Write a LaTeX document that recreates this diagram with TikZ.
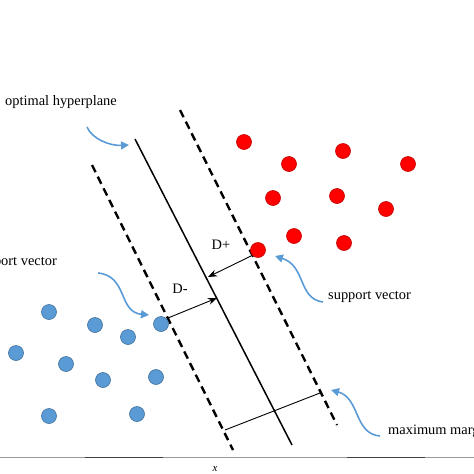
\documentclass[tikz,border=0pt]{standalone}
\usepackage{fontspec}
\setmainfont{Liberation Serif}
\usetikzlibrary{arrows.meta}
\definecolor{bluept}{HTML}{5B9BD5}
\definecolor{blueedge}{HTML}{41719C}
\definecolor{redpt}{HTML}{FF0000}
\definecolor{rededge}{HTML}{C00000}
\definecolor{arrowblue}{HTML}{5B9BD5}
\tikzset{
  bpt/.style={circle,fill=bluept,draw=blueedge,line width=0.6pt,minimum size=15pt,inner sep=0pt},
  rpt/.style={circle,fill=redpt,draw=rededge,line width=0.6pt,minimum size=15pt,inner sep=0pt},
  lbl/.style={font=\fontsize{14.4}{16}\selectfont,inner sep=0pt},
  marginline/.style={line width=2.4pt,dash pattern=on 8pt off 5pt},
  hyper/.style={line width=1.5pt},
  darrow/.style={line width=0.9pt,-{Stealth[length=9pt,width=7pt]}},
  barrow/.style={arrowblue,line width=1.6pt,-{Triangle[length=8pt,width=8pt]}}
}
\begin{document}
\begin{tikzpicture}[x=1pt,y=-1pt]
\useasboundingbox (0,0) rectangle (474,474);
\clip (0,0) rectangle (474,474);
% axis
\draw[gray!80,line width=1pt] (0,457) -- (474,457);
\draw[black!75,line width=1pt] (85,457) -- (163,457);
\draw[black!75,line width=1pt] (347,457) -- (425,457);
\node[font=\itshape\fontsize{11}{12}\selectfont,inner sep=0pt] (xl) at (215,469) {x};
% hyperplanes
\coordinate (h1) at (135,139);
\coordinate (h2) at (292,445);
\coordinate (l1) at (92,165);
\coordinate (l2) at (233,450);
\coordinate (r1) at (180,110);
\coordinate (r2) at (337,425);
\draw[hyper] (h1) -- (h2);
\draw[marginline] (l1) -- (l2);
\draw[marginline] (r1) -- (r2);
% blue points
\node[bpt] (b1) at (49,312) {};
\node[bpt] (b2) at (95,325) {};
\node[bpt] (b3) at (128,337) {};
\node[bpt] (bs) at (161,324) {};
\node[bpt] (b5) at (16,353) {};
\node[bpt] (b6) at (66,364) {};
\node[bpt] (b7) at (103,380) {};
\node[bpt] (b8) at (156,377) {};
\node[bpt] (b9) at (49,416) {};
\node[bpt] (b10) at (137,414) {};
% red points
\node[rpt] (r01) at (244,142) {};
\node[rpt] (r02) at (289,164) {};
\node[rpt] (r03) at (343,151) {};
\node[rpt] (r04) at (408,164) {};
\node[rpt] (r05) at (273,198) {};
\node[rpt] (r06) at (337,196) {};
\node[rpt] (r07) at (386,209) {};
\node[rpt] (r08) at (294,236) {};
\node[rpt] (r09) at (344,243) {};
\node[rpt] (rs) at (258,250) {};
% distance arrows
\coordinate (dpS) at (251,256);
\coordinate (dpE) at (208,277);
\coordinate (dmS) at (168,318);
\coordinate (dmE) at (217,298);
\draw[darrow] (dpS) -- (dpE);
\draw[darrow] (dmS) -- (dmE);
\node[lbl] (dplus) at (221,245) {D+};
\node[lbl] (dminus) at (180,289) {D-};
% maximum margin segment
\coordinate (m1) at (225,430);
\coordinate (m2) at (320,393);
\draw[line width=0.9pt] (m1) -- (m2);
% labels
\node[lbl,anchor=west] (topt) at (5,102) {optimal hyperplane};
\node[lbl,anchor=east] (tsvl) at (57,263) {support vector};
\node[lbl,anchor=west] (tsvr) at (328,297) {support vector};
\node[lbl,anchor=west] (tmm) at (388,431) {maximum margin};
% blue curved arrows
\coordinate (a1s) at (87,127);
\coordinate (a1e) at (129,145);
\draw[barrow] (a1s) .. controls (92,139) and (110,146) .. (a1e);
\coordinate (a2s) at (98,273);
\coordinate (a2e) at (149,315);
\draw[barrow] (a2s) .. controls (128,276) and (118,312) .. (a2e);
\coordinate (a3s) at (323,302);
\coordinate (a3e) at (275,256);
\draw[barrow] (a3s) .. controls (298,299) and (306,266) .. (a3e);
\coordinate (a4s) at (380,436);
\coordinate (a4e) at (331,390);
\draw[barrow] (a4s) .. controls (354,434) and (360,398) .. (a4e);
\end{tikzpicture}
\end{document}
